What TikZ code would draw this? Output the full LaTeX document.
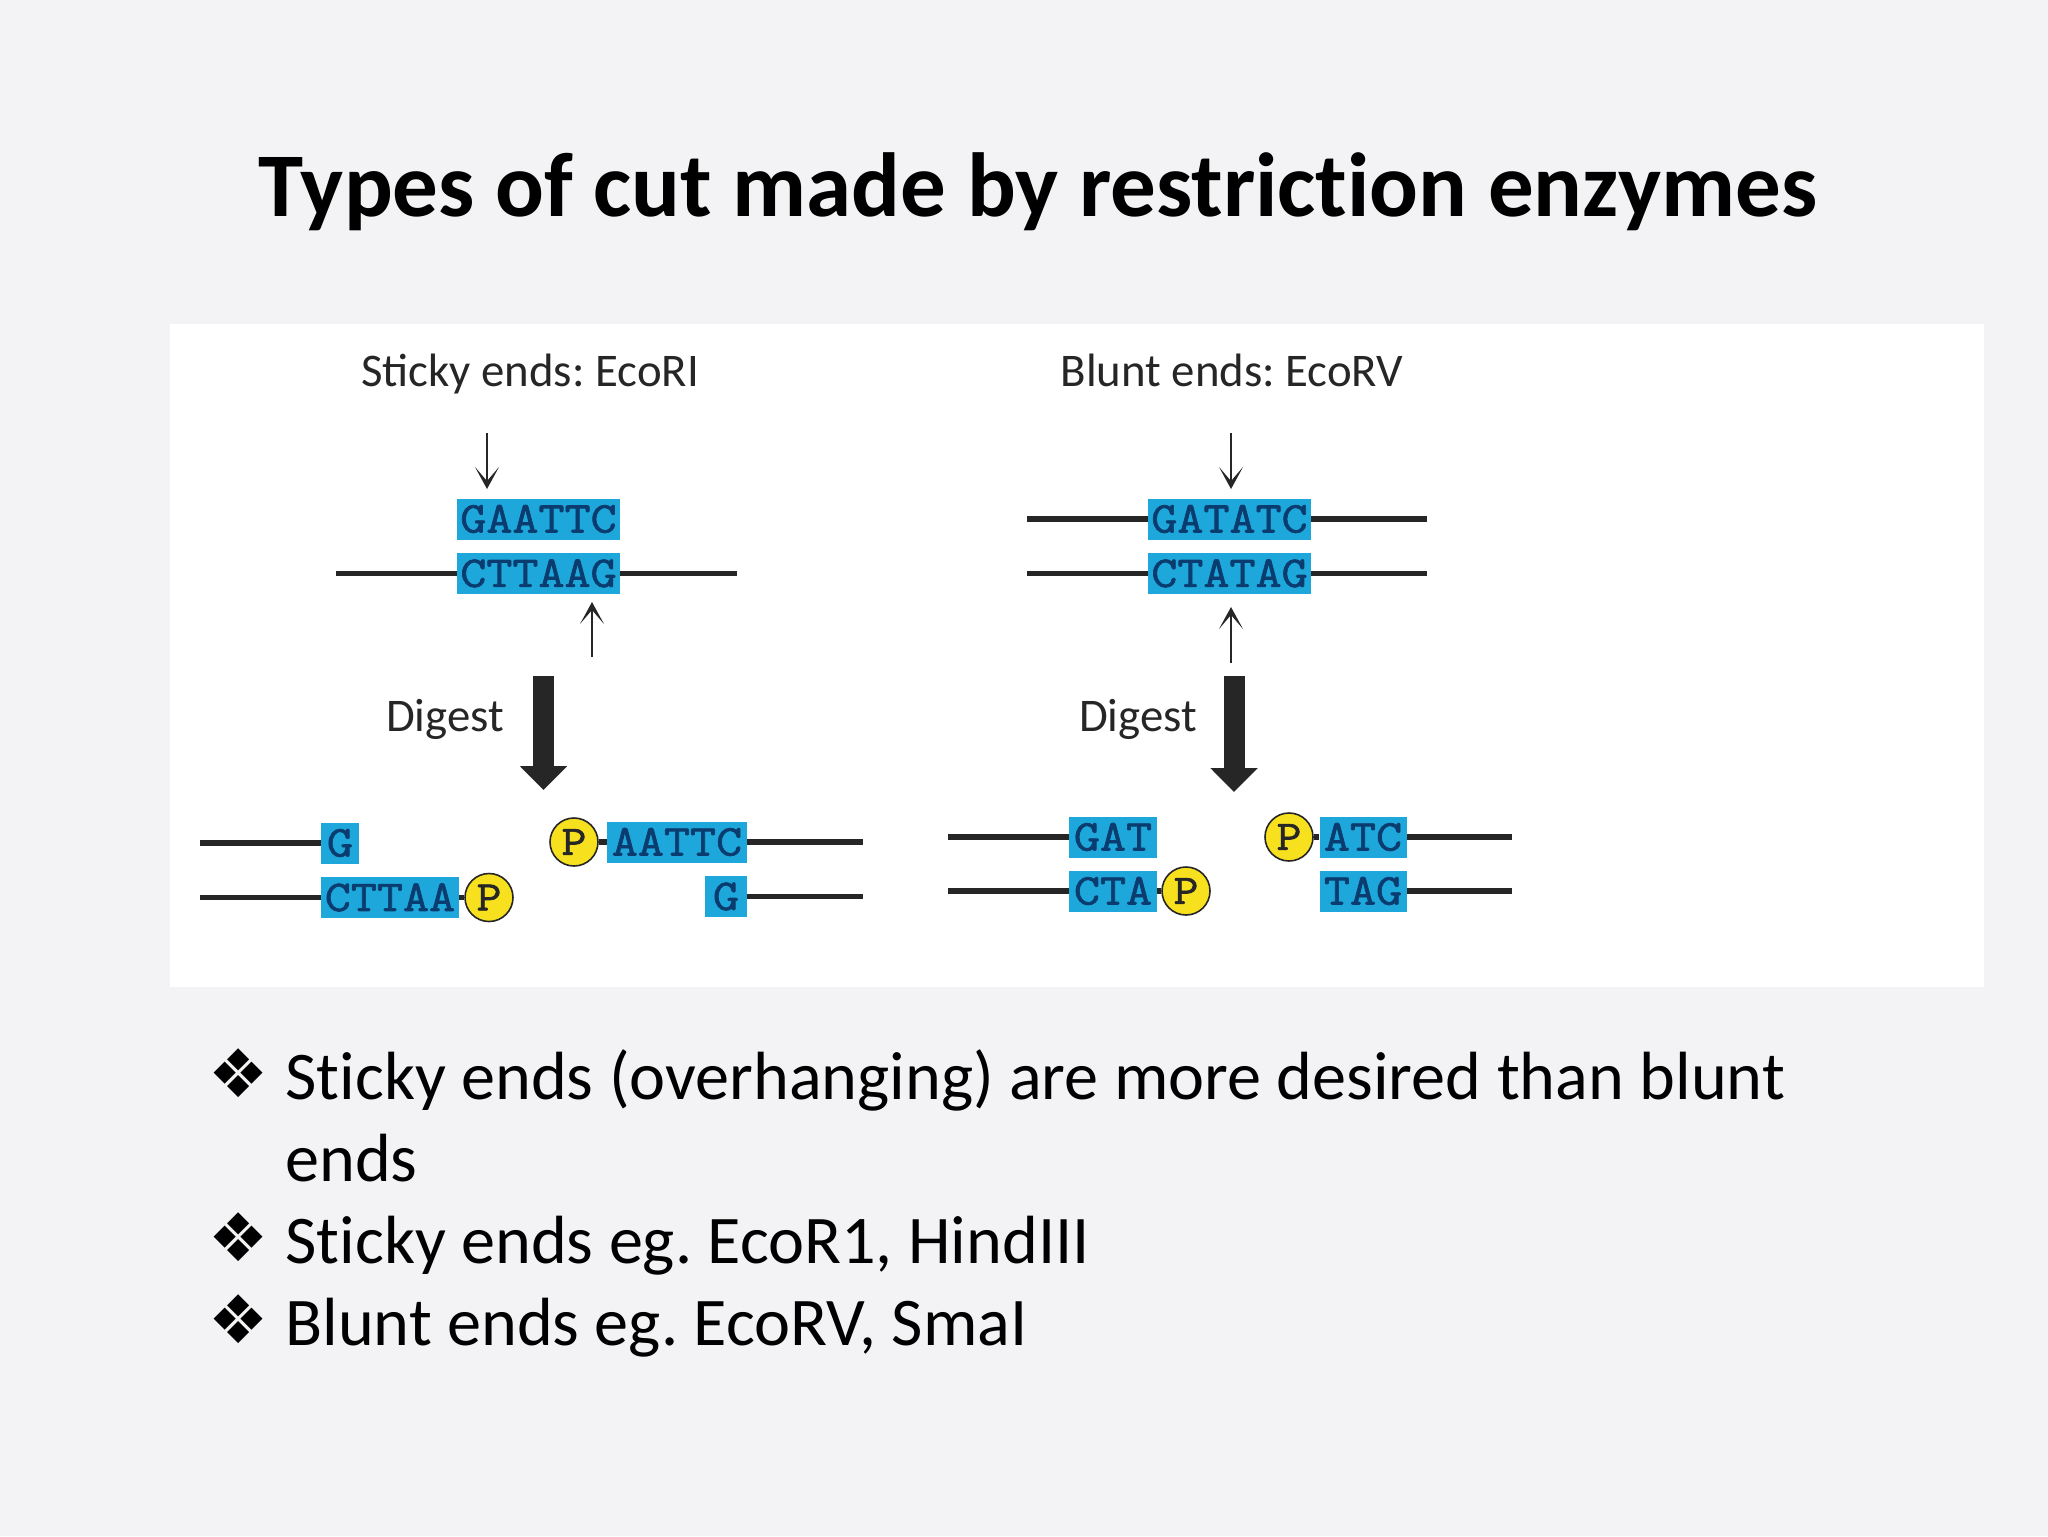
\documentclass[tikz,border=0pt]{standalone}
\usepackage{fontspec}
\usepackage{xcolor}
\setmainfont{Carlito}
\setmonofont[FakeStretch=1.15,FakeBold=1.6]{Latin Modern Mono}
\newfontfamily\plainfont[Ligatures=NoCommon]{Carlito}
\newfontfamily\symfont{DejaVu Sans}
\usetikzlibrary{arrows.meta, positioning}
\definecolor{slidebg}{HTML}{F3F2F5}
\definecolor{dnablue}{HTML}{1EA7DB}
\definecolor{dnatext}{HTML}{0B3C6F}
\definecolor{phosyellow}{HTML}{F7E11E}
\definecolor{inkgrey}{HTML}{262626}
\frenchspacing

\begin{document}
\begin{tikzpicture}[x=0.5pt,y=-0.5pt]
    \tikzstyle{dnabox} = [rectangle, inner sep=0pt, minimum height=20.5pt, fill=dnablue, text=dnatext, font=\fontsize{22}{22}\ttfamily]
    \tikzstyle{phos} = [circle, inner sep=0pt, minimum size=24pt, draw=inkgrey, line width=0.8pt, fill=phosyellow, text=inkgrey, font=\fontsize{21}{21}\ttfamily]
    \tikzstyle{caption} = [inner sep=0pt, anchor=base, text=inkgrey, font=\fontsize{23.4}{23.4}\selectfont]
    \tikzstyle{bullet} = [inner sep=0pt, anchor=center, font=\fontsize{33.5}{33.5}\symfont]
    \tikzstyle{bodytext} = [inner sep=0pt, anchor=base west, font=\fontsize{34.1}{34.1}\plainfont]
    \tikzstyle{strand} = [line width=2.7pt, draw=inkgrey]
    \tikzstyle{cut} = [line width=0.9pt, draw=inkgrey, -{Stealth[length=11pt,width=12pt,inset=7pt]}]
    \tikzstyle{digest} = [line width=10.5pt, draw=inkgrey, -{Triangle[length=12pt,width=23pt]}]

    % slide
    \fill [slidebg] (0,0) rectangle (2048,1536);
    \fill [white] (170,324) rectangle (1984,987);
    \node (title) [inner sep=0pt, anchor=base, font=\fontsize{45.5}{45.5}\plainfont\bfseries] at (1038,216) {Types of cut made by restriction enzymes};

    % sticky ends
    \node (stickylabel) [caption] at (530,386) {Sticky ends: EcoRI};
    \node (gaattc) [dnabox, minimum width=81.5pt] at (538.5,519) {GAATTC};
    \node (cttaag) [dnabox, minimum width=81.5pt, below=6.3pt of gaattc] {CTTAAG};
    \coordinate (sl) at (336,0 |- cttaag.west);
    \coordinate (sr) at (737,0 |- cttaag.east);
    \draw [strand] (sl) -- (cttaag.west);
    \draw [strand] (cttaag.east) -- (sr);
    \coordinate (sa) at (487,433);
    \coordinate (sb) at (487,489);
    \coordinate (sc) at (592,657);
    \coordinate (sd) at (592,602);
    \draw [cut] (sa) -- (sb);
    \draw [cut] (sc) -- (sd);
    \node (digesta) [caption] at (445,731) {Digest};
    \coordinate (se) at (543.5,676);
    \coordinate (sf) at (543.5,790);
    \draw [digest] (se) -- (sf);

    \node (ga) [dnabox, minimum width=19pt] at (340,843) {G};
    \node (cttaa) [dnabox, minimum width=69pt] at (390,897.5) {CTTAA};
    \node (pa) [phos] at (489,897.5) {P};
    \node (pb) [phos] at (574,842) {P};
    \node (aattc) [dnabox, minimum width=70pt] at (677,842) {AATTC};
    \node (gb) [dnabox, minimum width=21pt] at (726,896.5) {G};
    \coordinate (l1) at (200,843);
    \coordinate (l2) at (200,897.5);
    \coordinate (r1) at (863,842);
    \coordinate (r2) at (863,896.5);
    \draw [strand] (l1) -- (ga.west);
    \draw [strand] (l2) -- (cttaa.west);
    \draw [strand] (aattc.east) -- (r1);
    \draw [strand] (gb.east) -- (r2);
    \draw [strand] (cttaa.east) -- (pa.west);
    \draw [strand] (pb.east) -- (aattc.west);

    % blunt ends
    \node (bluntlabel) [caption] at (1232,386) {Blunt ends: EcoRV};
    \node (gatatc) [dnabox, minimum width=81.5pt] at (1229.5,519) {GATATC};
    \node (ctatag) [dnabox, minimum width=81.5pt, below=6.3pt of gatatc] {CTATAG};
    \coordinate (bl1) at (1027,0 |- gatatc.west);
    \coordinate (bl2) at (1027,0 |- ctatag.west);
    \coordinate (br1) at (1427,0 |- gatatc.east);
    \coordinate (br2) at (1427,0 |- ctatag.east);
    \draw [strand] (bl1) -- (gatatc.west);
    \draw [strand] (bl2) -- (ctatag.west);
    \draw [strand] (gatatc.east) -- (br1);
    \draw [strand] (ctatag.east) -- (br2);
    \coordinate (ba) at (1231,433);
    \coordinate (bb) at (1231,489);
    \coordinate (bc) at (1231,663);
    \coordinate (bd) at (1231,607);
    \draw [cut] (ba) -- (bb);
    \draw [cut] (bc) -- (bd);
    \node (digestb) [caption] at (1138,731) {Digest};
    \coordinate (be) at (1234,676);
    \coordinate (bf) at (1234,792);
    \draw [digest] (be) -- (bf);

    \node (gat) [dnabox, minimum width=44pt] at (1113,837) {GAT};
    \node (cta) [dnabox, minimum width=44pt] at (1113,891) {CTA};
    \node (pc) [phos] at (1186,891) {P};
    \node (pd) [phos] at (1289,837) {P};
    \node (atc) [dnabox, minimum width=43.5pt] at (1363,837) {ATC};
    \node (tag) [dnabox, minimum width=43.5pt] at (1363,891) {TAG};
    \coordinate (l3) at (948,837);
    \coordinate (l4) at (948,891);
    \coordinate (r3) at (1512,837);
    \coordinate (r4) at (1512,891);
    \draw [strand] (l3) -- (gat.west);
    \draw [strand] (l4) -- (cta.west);
    \draw [strand] (atc.east) -- (r3);
    \draw [strand] (tag.east) -- (r4);
    \draw [strand] (cta.east) -- (pc.west);
    \draw [strand] (pd.east) -- (atc.west);

    % bullets
    \node (ba1) [bullet] at (239,1073) {❖};
    \node (ba2) [bullet] at (239,1237) {❖};
    \node (ba3) [bullet] at (239,1319) {❖};
    \node (t1) [bodytext] at (285,1099) {Sticky ends (overhanging) are more desired than blunt};
    \node (t2) [bodytext] at (285,1181) {ends};
    \node (t3) [bodytext] at (285,1263) {Sticky ends eg. EcoR1, HindIII};
    \node (t4) [bodytext] at (285,1345) {Blunt ends eg. EcoRV, SmaI};
\end{tikzpicture}
\end{document}
